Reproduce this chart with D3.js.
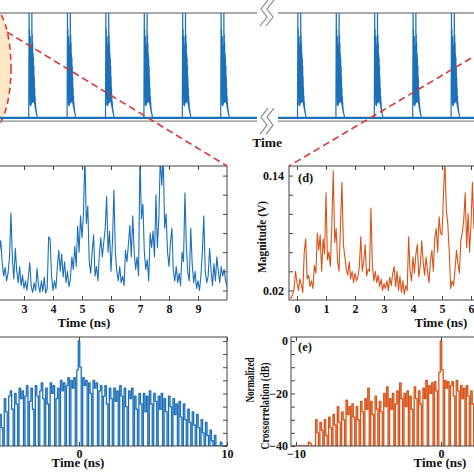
<!DOCTYPE html>
<html>
<head>
<meta charset="utf-8">
<script src="https://cdn.jsdelivr.net/npm/d3@7"></script>
<style>
body{margin:0;background:#fff}
svg{display:block}
text{font-family:"Liberation Serif","Times New Roman",serif;font-weight:bold;fill:#111}
</style>
</head>
<body>
<svg id="fig" width="474" height="474"></svg>
<script>
// ---------------- data ----------------
// top strip: pulse train (index 6 hidden behind the axis break)
var pulseIndex = [0,1,2,3,4,5,7,8,9,10,11]
var pulseStep = 0.0052
var pulseShape = [0.01,0.55,1.0,0.45,0.85,0.2,0.7,0.13,0.78,0.15,0.62,0.12,0.7,0.14,0.66,0.16,1.0,0.2,0.8,0.15,
  0.72,0.18,0.62,0.16,0.58,0.2,0.5,0.17,0.4,0.14,0.3,0.12,0.22,0.1,0.16,0.08,0.11,0.06,0.08,0.045,0.05,0.035,
  0.03,0.02,0.015,0.01]

// (c) chaotic waveform, blue (V), t = 2.15 ns + i*0.05
var chaosBlueT0 = 2.15, chaosStep = 0.05
var chaosBlue = [0.060,0.072,0.048,0.035,0.044,0.030,0.038,0.055,0.101,0.052,0.032,0.064,0.040,0.028,0.045,0.025,0.036,0.022,
  0.030,0.020,0.034,0.049,0.024,0.018,0.028,0.020,0.043,0.025,0.018,0.030,0.019,0.034,0.017,0.022,0.076,0.074,0.035,0.020,
  0.030,0.022,0.045,0.062,0.040,0.058,0.034,0.050,0.028,0.040,0.024,0.032,0.055,0.042,0.066,0.045,0.087,0.060,0.098,0.075,
  0.100,0.160,0.090,0.108,0.050,0.038,0.060,0.078,0.035,0.045,0.030,0.058,0.075,0.055,0.070,0.085,0.118,0.060,0.082,0.040,
  0.070,0.125,0.060,0.040,0.030,0.045,0.028,0.035,0.025,0.062,0.050,0.068,0.088,0.055,0.098,0.060,0.042,0.055,0.035,0.160,
  0.095,0.110,0.060,0.042,0.052,0.030,0.080,0.065,0.082,0.055,0.120,0.065,0.095,0.160,0.130,0.160,0.085,0.100,0.060,0.045,
  0.070,0.085,0.040,0.030,0.045,0.028,0.038,0.025,0.060,0.050,0.122,0.065,0.038,0.030,0.085,0.048,0.028,0.040,0.022,0.030,
  0.020,0.035,0.060,0.098,0.040,0.028,0.035,0.064,0.042,0.025,0.048,0.030,0.055,0.040,0.028,0.045,0.035,0.042,0.030,0.024]

// (d) chaotic waveform, orange (V), t = -0.25 ns + i*0.05
var chaosOrangeT0 = -0.25
var chaosOrange = [0.013,0.012,0.016,0.022,0.040,0.028,0.020,0.032,0.026,0.018,0.060,0.074,0.032,0.036,0.024,0.030,0.022,
  0.046,0.038,0.080,0.062,0.078,0.040,0.074,0.058,0.122,0.052,0.060,0.045,0.088,0.145,0.070,0.085,0.050,0.040,0.088,0.133,
  0.068,0.055,0.042,0.036,0.050,0.032,0.040,0.028,0.038,0.030,0.034,0.045,0.076,0.040,0.050,0.068,0.035,0.042,0.040,0.106,
  0.046,0.030,0.040,0.028,0.036,0.024,0.032,0.020,0.027,0.022,0.030,0.020,0.034,0.025,0.038,0.045,0.024,0.040,0.020,0.035,
  0.018,0.030,0.016,0.025,0.020,0.076,0.040,0.030,0.055,0.038,0.058,0.068,0.034,0.045,0.072,0.050,0.036,0.055,0.040,0.028,
  0.050,0.062,0.040,0.075,0.085,0.060,0.097,0.080,0.078,0.120,0.155,0.104,0.090,0.060,0.022,0.030,0.025,0.042,0.062,0.048,
  0.038,0.072,0.080,0.094,0.122,0.065,0.100,0.060,0.090,0.133,0.085,0.110]

// (bottom left) cross-correlation, blue (dB), t = -5.4 ns + i*0.1
var ccBlueT0 = -5.4, ccStep = 0.1
var ccBlue = [-40,-28,-33,-40,-22,-27,-40,-21,-19,-26,-40,-20,-24,-40,-18,-22,-19,-40,-21,-17,-40,-23,-18,-26,-40,-17,-21,
  -40,-19,-16,-22,-40,-18,-24,-40,-16,-20,-17,-40,-22,-18,-40,-15,-19,-16,-40,-17,-14,-40,-15,-18,-14,-40,-11,0,-10,-40,
  -14,-17,-15,-40,-16,-20,-40,-15,-18,-16,-40,-19,-17,-40,-21,-17,-24,-40,-18,-22,-40,-18,-23,-19,-40,-17,-21,-40,-18,-25,
  -40,-19,-22,-18,-40,-21,-26,-40,-20,-24,-40,-20,-27,-21,-40,-19,-24,-40,-20,-23,-40,-21,-26,-20,-40,-22,-27,-40,-21,-25,
  -40,-22,-28,-24,-40,-23,-29,-40,-24,-30,-40,-26,-31,-40,-27,-32,-40,-28,-33,-40,-30,-35,-40,-31,-36,-40,-34,-38,-40,-36,
  -40,-40,-40,-38.5,-40,-40,-40,-40]

// (e) cross-correlation, orange (dB), t = -10.3 ns + i*0.1
var ccOrangeT0 = -10.3
var ccOrange = [-40,-40,-40,-40,-40,-40,-40,-40,-40,-40,-40,-40,-38.5,-39,-40,-40,-40,-30,-35,-40,-31,-34,-40,-30,-36,-40,
  -29,-33,-40,-28,-32,-40,-25,-31,-40,-27,-30,-40,-22.5,-28,-25,-40,-24,-29,-40,-25,-30,-40,-23,-27,-40,-22,-26,-18,-40,
  -23,-28,-40,-21,-26,-40,-23,-27,-40,-20,-25,-17.5,-40,-22,-26,-20,-40,-24,-19,-40,-16,-22,-40,-20,-25,-19,-40,-21,-26,
  -40,-17.5,-22,-40,-19,-24,-40,-18,-22,-15,-40,-17,-20,-16,-40,-15.5,-19,-40,-12,0,-11,-40,-15,-18,-15.5,-40,-17,-15.5,
  -21,-40,-15,-19,-40,-17,-22,-18,-40,-17,-21,-40,-19,-24,-40]

var nsTicks = [0,1,2,3,4,5,6,7,8,9]
var magTicks = [0.02,0.04,0.06,0.08,0.10,0.12,0.14]
var magLabels = [0.02,0.14]
var dbTicks = [-40,-35,-30,-25,-20,-15,-10,-5,0]
var dbLabels = [-40,-20,0]
var lagTicks = [-10,0,10]

// ---------------- drawing ----------------
var svg = d3.select('#fig')
var blue = '#1c6fb9', orange = '#d95319', red = '#d8383a'
var frameCol = '#444'
var W = 474

function toPoints(values, t0, dt){
  return values.map(function(v, i){ return [t0 + i*dt, v] })
}

// ---- top strip ----
var xTop = d3.scaleLinear().domain([0, 11]).range([28.7, 451.1])
var yTop = d3.scaleLinear().domain([0, 1]).range([119, 13])
var segs = [[0, 257], [278, W]]

svg.append('ellipse')
  .attr('cx', -9).attr('cy', 68).attr('rx', 20).attr('ry', 62)
  .attr('fill', '#fde8c6').attr('stroke', red).attr('stroke-width', 1.6)
  .attr('stroke-dasharray', '6,4')

segs.forEach(function(s){
  [1, -0.02].forEach(function(v){
    svg.append('line').attr('x1', s[0]).attr('x2', s[1])
      .attr('y1', yTop(v)).attr('y2', yTop(v))
      .attr('stroke', '#8c8c8c').attr('stroke-width', 1.4)
  })
})

// axis break marks
var breakX = 267
;[yTop(1), yTop(-0.02)].forEach(function(yc){
  [-3, 3].forEach(function(off){
    svg.append('polyline')
      .attr('points', [[breakX+off+4, yc-13], [breakX+off-3, yc-4], [breakX+off+3, yc+4], [breakX+off-4, yc+13]].join(' '))
      .attr('fill', 'none').attr('stroke', '#8c8c8c').attr('stroke-width', 1.2)
  })
})

var topLine = d3.line().x(function(d){ return xTop(d[0]) }).y(function(d){ return yTop(d[1]) })
segs.forEach(function(s){
  var pts = [[xTop.invert(s[0]), 0.01]]
  pulseIndex.forEach(function(k){
    if (xTop(k) < s[0] || xTop(k) > s[1]) return
    pulseShape.forEach(function(v, i){ pts.push([k + i*pulseStep, v]) })
  })
  pts.push([xTop.invert(s[1]), 0.01])
  svg.append('path').attr('d', topLine(pts))
    .attr('fill', 'none').attr('stroke', blue).attr('stroke-width', 1.2)
})
// thicker baseline of the strip
segs.forEach(function(s){
  svg.append('line').attr('x1', s[0]).attr('x2', s[1])
    .attr('y1', yTop(0.01)).attr('y2', yTop(0.01))
    .attr('stroke', blue).attr('stroke-width', 2.2)
})

svg.append('text').attr('x', breakX).attr('y', 147).attr('text-anchor', 'middle')
  .attr('font-size', 13.5).text('Time')

// ---- generic panel ----
var clipId = 0
function panel(o){
  var g = svg.append('g')
  var id = 'clip' + (clipId++)
  svg.append('clipPath').attr('id', id).append('rect')
    .attr('x', o.left).attr('y', o.top).attr('width', o.right - o.left).attr('height', o.bottom - o.top)
  var line = d3.line().curve(o.curve || d3.curveLinear)
    .x(function(d){ return o.x(d[0]) }).y(function(d){ return o.y(d[1]) })
  g.append('path').attr('d', line(o.data)).attr('clip-path', 'url(#' + id + ')')
    .attr('fill', 'none').attr('stroke', o.color).attr('stroke-width', o.width || 1.1).attr('stroke-linejoin', 'round')
  g.append('rect').attr('x', o.left).attr('y', o.top).attr('width', o.right - o.left).attr('height', o.bottom - o.top)
    .attr('fill', 'none').attr('stroke', frameCol).attr('stroke-width', 1)

  function style(a){
    a.select('.domain').remove()
    a.selectAll('line').attr('stroke', frameCol)
    a.attr('font-family', null).attr('font-size', 12)
    a.selectAll('text').attr('fill', '#111')
    a.selectAll('text').filter(function(){ return this.textContent === '' }).remove()
  }
  var visible = function(d){ var px = o.x(d); return px > 2 && px < W + 4 }
  g.append('g').attr('transform', 'translate(0,' + o.bottom + ')')
    .call(d3.axisBottom(o.x).tickValues(o.xTicks).tickSize(-4).tickPadding(o.xPad || 4)
      .tickFormat(function(d){ return visible(d) ? d3.format('d')(d) : '' })).call(style)
  g.append('g').attr('transform', 'translate(0,' + o.top + ')')
    .call(d3.axisTop(o.x).tickValues(o.xTicks).tickSize(-4).tickFormat('')).call(style)
  var yAx = o.yAxisSide === 'left' ? d3.axisLeft(o.y) : d3.axisRight(o.y)
  g.append('g').attr('transform', 'translate(' + (o.yAxisSide === 'left' ? o.left : o.right) + ',0)')
    .call(yAx.tickValues(o.yTicks).tickSize(-4).tickPadding(o.yPad || 5).tickFormat(o.yFmt || '')).call(style)
  return g
}

// (c)
var xC = d3.scaleLinear().domain([0, 10]).range([-63, 227])
var yMag = d3.scaleLinear().domain([0.01, 0.15]).range([300, 166])
panel({x: xC, y: yMag, left: -63, right: 227, top: 166, bottom: 300, color: blue,
  data: toPoints(chaosBlue, chaosBlueT0, chaosStep), xTicks: nsTicks,
  yTicks: magTicks, yAxisSide: 'right'})
svg.append('text').attr('x', 84).attr('y', 327).attr('text-anchor', 'middle').attr('font-size', 13).text('Time (ns)')

// (d)
var xD = d3.scaleLinear().domain([0, 10]).range([297, 587])
panel({x: xD, y: yMag, left: 289, right: 587, top: 166, bottom: 300, color: orange,
  data: toPoints(chaosOrange, chaosOrangeT0, chaosStep), xTicks: nsTicks,
  yTicks: magTicks, yAxisSide: 'left',
  yFmt: function(d){ return magLabels.indexOf(d) >= 0 ? d3.format('.2f')(d) : '' }})
svg.append('text').attr('x', 441).attr('y', 327).attr('text-anchor', 'middle').attr('font-size', 13).text('Time (ns)')
svg.append('text').attr('x', 298).attr('y', 182).attr('font-size', 12.5).text('(d)')
svg.append('text').attr('transform', 'translate(266,237) rotate(-90)').attr('text-anchor', 'middle')
  .attr('font-size', 13.5).attr('textLength', 72).attr('lengthAdjust', 'spacingAndGlyphs').text('Magnitude (V)')

// bottom left cross-correlation
var xCC1 = d3.scaleLinear().domain([-10, 10]).range([-69, 227])
var yDb = d3.scaleLinear().domain([-40, 1.5]).range([446, 337])
panel({x: xCC1, y: yDb, left: -69, right: 227, top: 337, bottom: 446, color: blue, curve: d3.curveStep, width: 1.3,
  data: toPoints(ccBlue, ccBlueT0, ccStep), xTicks: lagTicks, xPad: 3,
  yTicks: dbTicks, yAxisSide: 'right'})
svg.append('text').attr('x', 78).attr('y', 467).attr('text-anchor', 'middle').attr('font-size', 13).text('Time (ns)')

// (e)
var xE = d3.scaleLinear().domain([-10, 10]).range([296, 586])
panel({x: xE, y: yDb, left: 291, right: 586, top: 337, bottom: 446, color: orange, curve: d3.curveStep, width: 1.3,
  data: toPoints(ccOrange, ccOrangeT0, ccStep), xTicks: lagTicks, xPad: 3,
  yTicks: dbTicks, yAxisSide: 'left', yPad: 3,
  yFmt: function(d){ return dbLabels.indexOf(d) >= 0 ? d3.format('d')(d) : '' }})
svg.append('text').attr('x', 440).attr('y', 467).attr('text-anchor', 'middle').attr('font-size', 13).text('Time (ns)')
svg.append('text').attr('x', 298).attr('y', 351).attr('font-size', 12.5).text('(e)')
svg.append('text').attr('transform', 'translate(254,380) rotate(-90)').attr('text-anchor', 'middle')
  .attr('font-size', 13.5).attr('textLength', 45).attr('lengthAdjust', 'spacingAndGlyphs').text('Normalized')
svg.append('text').attr('transform', 'translate(269,406) rotate(-90)').attr('text-anchor', 'middle')
  .attr('font-size', 13.5).attr('textLength', 87).attr('lengthAdjust', 'spacingAndGlyphs').text('Crossorrelation (dB)')

// zoom guide lines
svg.append('line').attr('x1', 7).attr('y1', 32).attr('x2', xC.range()[1]).attr('y2', yMag.range()[1])
  .attr('stroke', red).attr('stroke-width', 1.6).attr('stroke-dasharray', '7,4')
svg.append('line').attr('x1', 490).attr('y1', 47).attr('x2', 289).attr('y2', yMag.range()[1])
  .attr('stroke', red).attr('stroke-width', 1.6).attr('stroke-dasharray', '7,4')
</script>
</body>
</html>
